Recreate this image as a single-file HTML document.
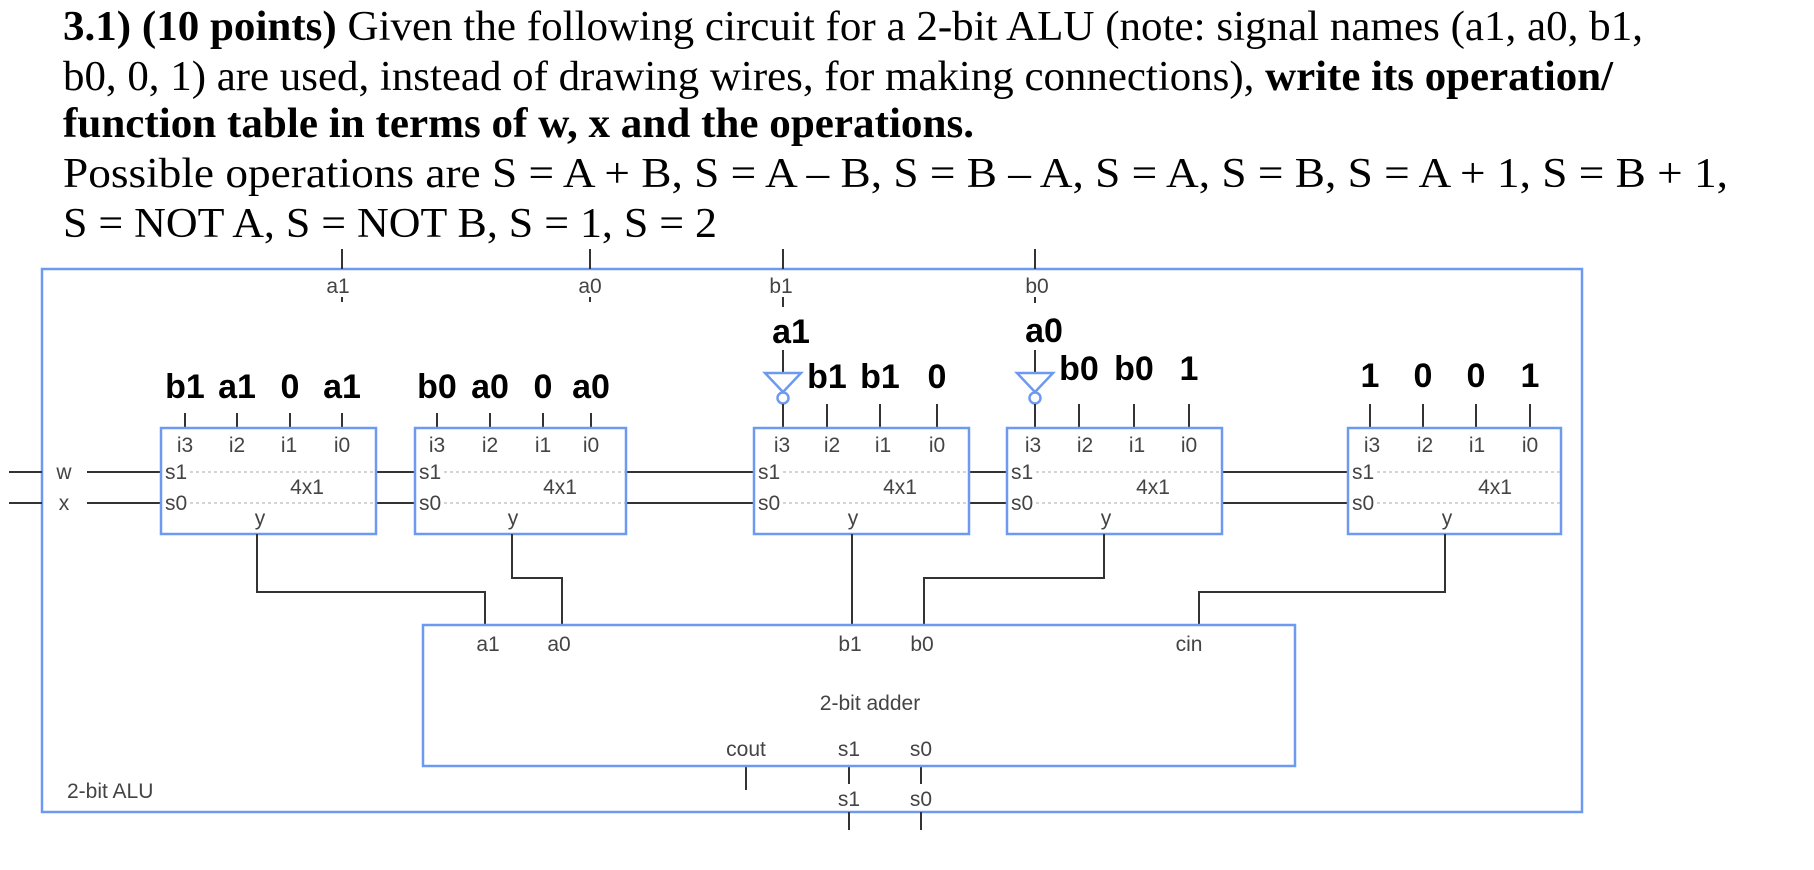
<!DOCTYPE html>
<html><head><meta charset="utf-8"><style>
html,body{margin:0;padding:0;background:#fff;}
svg{display:block;}
.t{font-family:"Liberation Serif",serif;font-size:42px;fill:#000;}
.b{font-weight:bold;}
.g{font-family:"Liberation Sans",sans-serif;font-size:21px;fill:#444;}
.k{font-family:"Liberation Sans",sans-serif;font-size:34px;font-weight:bold;fill:#000;}
.blue{fill:none;stroke:#6d9af0;stroke-width:2.5;}
.w{fill:none;stroke:#333;stroke-width:2;}
.d{stroke:#aaa;stroke-width:1;stroke-dasharray:3,3;}
</style></head><body>
<svg width="1814" height="870" viewBox="0 0 1814 870" xmlns="http://www.w3.org/2000/svg">
<text class="t" x="63" y="40" textLength="1580" lengthAdjust="spacingAndGlyphs"><tspan class="b">3.1) (10 points)</tspan> Given the following circuit for a 2-bit ALU (note: signal names (a1, a0, b1,</text>
<text class="t" x="63" y="90" textLength="1550" lengthAdjust="spacingAndGlyphs">b0, 0, 1) are used, instead of drawing wires, for making connections), <tspan class="b">write its operation/</tspan></text>
<text class="t b" x="63" y="137" textLength="911" lengthAdjust="spacingAndGlyphs">function table in terms of w, x and the operations.</text>
<text class="t" x="63" y="187" textLength="1665" lengthAdjust="spacingAndGlyphs">Possible operations are S = A + B,  S = A – B,  S = B – A,  S = A,  S = B,  S = A + 1,  S = B + 1,</text>
<text class="t" x="63" y="237" textLength="654" lengthAdjust="spacingAndGlyphs">S = NOT A,  S = NOT B, S = 1, S = 2</text>

<rect class="blue" x="42" y="269" width="1540" height="543"/>
<g class="w">
<line x1="342" y1="249" x2="342" y2="269"/><line x1="590" y1="249" x2="590" y2="269"/>
<line x1="783" y1="249" x2="783" y2="269"/><line x1="1035" y1="249" x2="1035" y2="269"/>
<line x1="342" y1="297" x2="342" y2="302"/><line x1="590" y1="297" x2="590" y2="302"/>
<line x1="783" y1="297" x2="783" y2="307"/><line x1="1035" y1="297" x2="1035" y2="303"/>
</g>
<g class="g" text-anchor="middle">
<text x="338" y="293">a1</text><text x="590" y="293">a0</text><text x="781" y="293">b1</text><text x="1037" y="293">b0</text>
</g>
<text class="k" x="791" y="343" text-anchor="middle">a1</text>
<text class="k" x="1044" y="342" text-anchor="middle">a0</text>
<g>
<line class="w" x1="783" y1="350" x2="783" y2="373"/>
<polygon class="blue" points="765,373 801,373 783,392"/>
<circle class="blue" cx="783" cy="398" r="5.5"/>
<line class="w" x1="783" y1="404" x2="783" y2="428"/>
<line class="w" x1="1035" y1="350" x2="1035" y2="373"/>
<polygon class="blue" points="1017,373 1053,373 1035,392"/>
<circle class="blue" cx="1035" cy="398" r="5.5"/>
<line class="w" x1="1035" y1="404" x2="1035" y2="428"/>
</g>
<g class="k" text-anchor="middle">
<text x="185" y="398">b1</text><text x="237" y="398">a1</text><text x="290" y="398">0</text><text x="342" y="398">a1</text>
<text x="437" y="398">b0</text><text x="490" y="398">a0</text><text x="543" y="398">0</text><text x="591" y="398">a0</text>
<text x="827" y="388">b1</text><text x="880" y="388">b1</text><text x="937" y="388">0</text>
<text x="1079" y="380">b0</text><text x="1134" y="380">b0</text><text x="1189" y="380">1</text>
<text x="1370" y="387">1</text><text x="1423" y="387">0</text><text x="1476" y="387">0</text><text x="1530" y="387">1</text>
</g>
<g class="w">
<line x1="185" y1="413" x2="185" y2="428"/><line x1="237" y1="413" x2="237" y2="428"/><line x1="290" y1="413" x2="290" y2="428"/><line x1="342" y1="413" x2="342" y2="428"/>
<line x1="437" y1="413" x2="437" y2="428"/><line x1="490" y1="413" x2="490" y2="428"/><line x1="543" y1="413" x2="543" y2="428"/><line x1="591" y1="413" x2="591" y2="428"/>
<line x1="827" y1="404" x2="827" y2="428"/><line x1="880" y1="404" x2="880" y2="428"/><line x1="937" y1="404" x2="937" y2="428"/>
<line x1="1079" y1="404" x2="1079" y2="428"/><line x1="1134" y1="404" x2="1134" y2="428"/><line x1="1189" y1="404" x2="1189" y2="428"/>
<line x1="1370" y1="404" x2="1370" y2="428"/><line x1="1423" y1="404" x2="1423" y2="428"/><line x1="1476" y1="404" x2="1476" y2="428"/><line x1="1530" y1="404" x2="1530" y2="428"/>
</g>
<g class="w">
<line x1="9" y1="472" x2="42" y2="472"/><line x1="87" y1="472" x2="161" y2="472"/>
<line x1="9" y1="503" x2="42" y2="503"/><line x1="87" y1="503" x2="161" y2="503"/>
<line x1="376" y1="472" x2="415" y2="472"/><line x1="376" y1="503" x2="415" y2="503"/>
<line x1="626" y1="472" x2="754" y2="472"/><line x1="626" y1="503" x2="754" y2="503"/>
<line x1="969" y1="472" x2="1007" y2="472"/><line x1="969" y1="503" x2="1007" y2="503"/>
<line x1="1222" y1="472" x2="1348" y2="472"/><line x1="1222" y1="503" x2="1348" y2="503"/>
</g>
<g class="g" text-anchor="middle"><text x="64" y="479">w</text><text x="64" y="510">x</text></g>

<g>
<rect class="blue" x="161" y="428" width="215" height="106"/>
<line class="d" x1="190" y1="472" x2="376" y2="472"/><line class="d" x1="190" y1="503" x2="376" y2="503"/>
<g class="g" text-anchor="middle"><text x="185" y="452">i3</text><text x="237" y="452">i2</text><text x="289" y="452">i1</text><text x="342" y="452">i0</text><text x="307" y="494">4x1</text><text x="260" y="525">y</text></g>
<text class="g" x="165" y="479">s1</text><text class="g" x="165" y="510">s0</text>
</g>
<g>
<rect class="blue" x="415" y="428" width="211" height="106"/>
<line class="d" x1="444" y1="472" x2="626" y2="472"/><line class="d" x1="444" y1="503" x2="626" y2="503"/>
<g class="g" text-anchor="middle"><text x="437" y="452">i3</text><text x="490" y="452">i2</text><text x="543" y="452">i1</text><text x="591" y="452">i0</text><text x="560" y="494">4x1</text><text x="513" y="525">y</text></g>
<text class="g" x="419" y="479">s1</text><text class="g" x="419" y="510">s0</text>
</g>
<g>
<rect class="blue" x="754" y="428" width="215" height="106"/>
<line class="d" x1="783" y1="472" x2="969" y2="472"/><line class="d" x1="783" y1="503" x2="969" y2="503"/>
<g class="g" text-anchor="middle"><text x="782" y="452">i3</text><text x="832" y="452">i2</text><text x="883" y="452">i1</text><text x="937" y="452">i0</text><text x="900" y="494">4x1</text><text x="853" y="525">y</text></g>
<text class="g" x="758" y="479">s1</text><text class="g" x="758" y="510">s0</text>
</g>
<g>
<rect class="blue" x="1007" y="428" width="215" height="106"/>
<line class="d" x1="1036" y1="472" x2="1222" y2="472"/><line class="d" x1="1036" y1="503" x2="1222" y2="503"/>
<g class="g" text-anchor="middle"><text x="1033" y="452">i3</text><text x="1085" y="452">i2</text><text x="1137" y="452">i1</text><text x="1189" y="452">i0</text><text x="1153" y="494">4x1</text><text x="1106" y="525">y</text></g>
<text class="g" x="1011" y="479">s1</text><text class="g" x="1011" y="510">s0</text>
</g>
<g>
<rect class="blue" x="1348" y="428" width="213" height="106"/>
<line class="d" x1="1377" y1="472" x2="1561" y2="472"/><line class="d" x1="1377" y1="503" x2="1561" y2="503"/>
<g class="g" text-anchor="middle"><text x="1372" y="452">i3</text><text x="1425" y="452">i2</text><text x="1477" y="452">i1</text><text x="1530" y="452">i0</text><text x="1495" y="494">4x1</text><text x="1447" y="525">y</text></g>
<text class="g" x="1352" y="479">s1</text><text class="g" x="1352" y="510">s0</text>
</g>

<g class="w">
<polyline points="257,534 257,592 485,592 485,625"/>
<polyline points="512,534 512,578 562,578 562,625"/>
<polyline points="852,534 852,625"/>
<polyline points="1104,534 1104,578 924,578 924,625"/>
<polyline points="1445,534 1445,592 1199,592 1199,625"/>
<line x1="746" y1="766" x2="746" y2="790"/>
<line x1="849" y1="766" x2="849" y2="784"/><line x1="921" y1="766" x2="921" y2="784"/>
<line x1="849" y1="812" x2="849" y2="830"/><line x1="921" y1="812" x2="921" y2="830"/>
</g>
<rect class="blue" x="423" y="625" width="872" height="141"/>
<g class="g" text-anchor="middle">
<text x="488" y="651">a1</text><text x="559" y="651">a0</text><text x="850" y="651">b1</text><text x="922" y="651">b0</text><text x="1189" y="651">cin</text>
<text x="870" y="710">2-bit adder</text>
<text x="746" y="756">cout</text><text x="849" y="756">s1</text><text x="921" y="756">s0</text>
<text x="849" y="806">s1</text><text x="921" y="806">s0</text>
</g>
<text class="g" x="67" y="798">2-bit ALU</text>
</svg>
</body></html>
